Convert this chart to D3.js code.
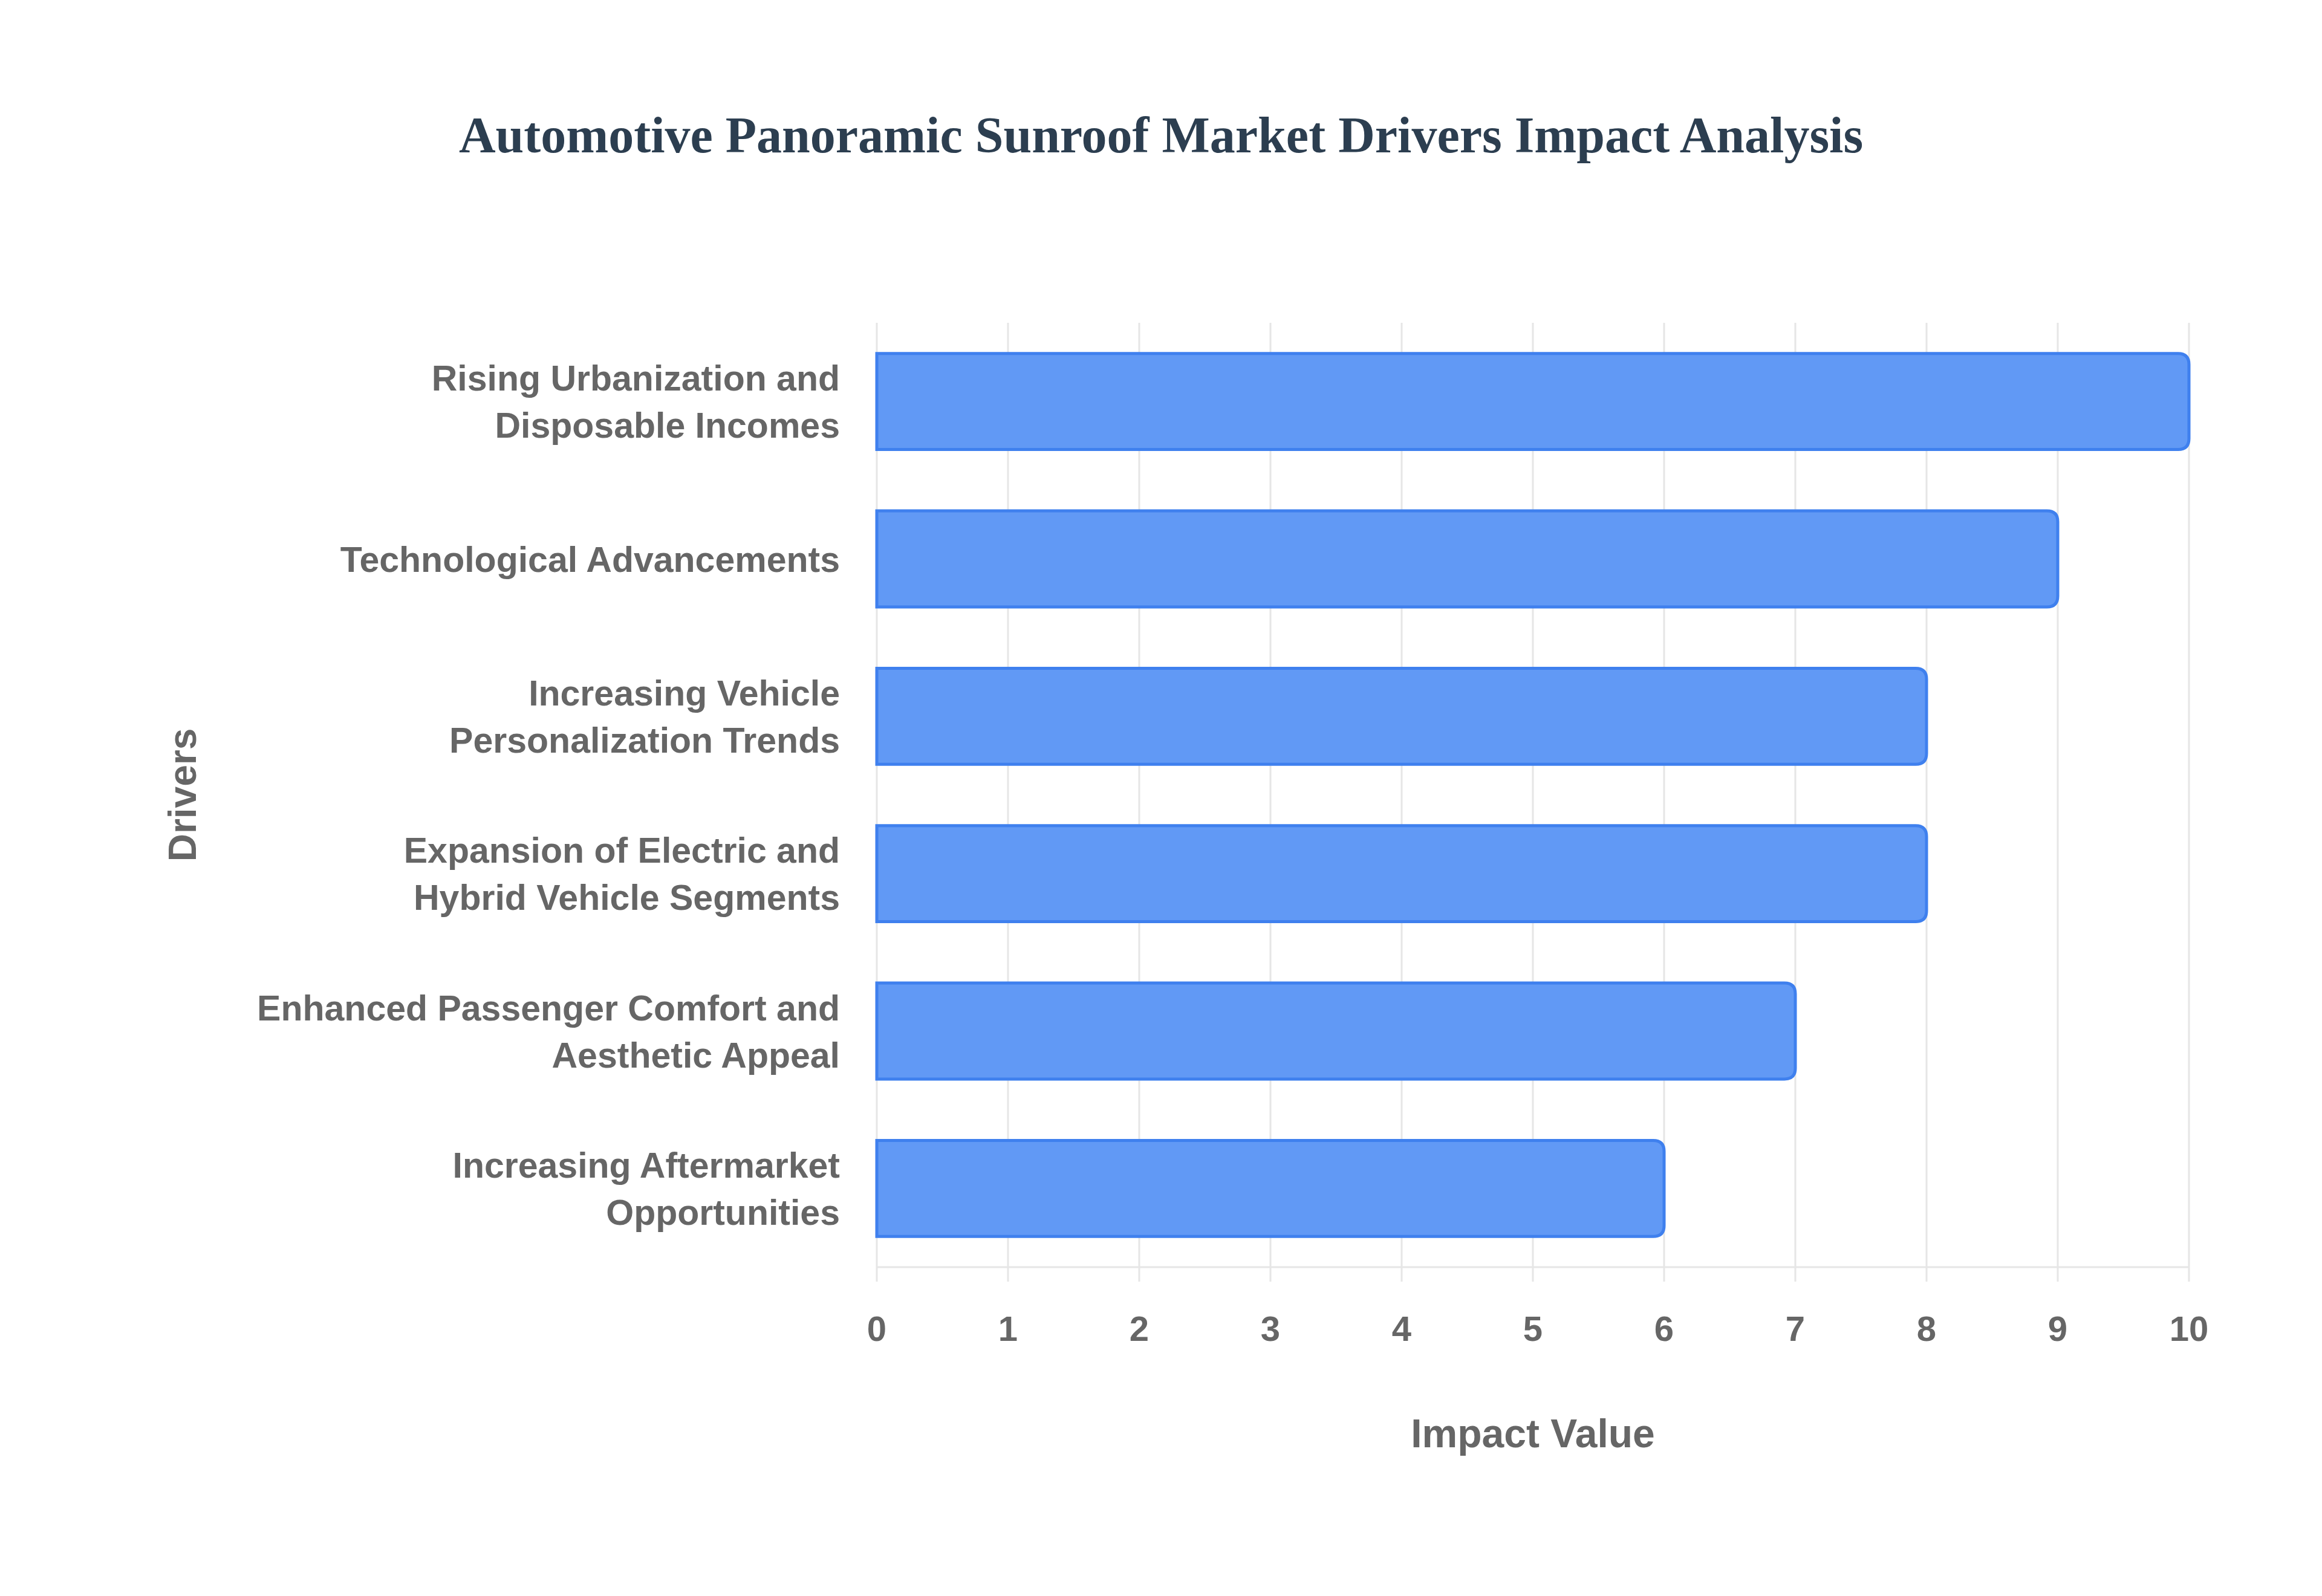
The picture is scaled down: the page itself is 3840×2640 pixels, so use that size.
<!DOCTYPE html>
<html><head><meta charset="utf-8">
<script src="https://cdn.jsdelivr.net/npm/d3@7"></script>
<style>body{margin:0;background:#fff}</style></head>
<body><svg id="c" width="3840" height="2640"></svg>
<script>
const categories = [
  ["Rising Urbanization and","Disposable Incomes"],
  ["Technological Advancements"],
  ["Increasing Vehicle","Personalization Trends"],
  ["Expansion of Electric and","Hybrid Vehicle Segments"],
  ["Enhanced Passenger Comfort and","Aesthetic Appeal"],
  ["Increasing Aftermarket","Opportunities"]
];
const values = [10, 9, 8, 8, 7, 6];
const ticks = [0,1,2,3,4,5,6,7,8,9,10];

const svg = d3.select("#c");
const L=1450, R=3620, T=534, B=2096;
const x = d3.scaleLinear().domain([0,10]).range([L,R]);
const y = d3.scaleBand().domain(d3.range(values.length)).range([T,B]).paddingInner(0.39).paddingOuter(0.195);

svg.append("text").attr("x",1920).attr("y",252).attr("text-anchor","middle")
  .attr("font-family","Liberation Serif").attr("font-weight","bold").attr("font-size",84)
  .attr("fill","#2c3e50").text("Automotive Panoramic Sunroof Market Drivers Impact Analysis");

svg.append("g").selectAll("line").data(ticks).join("line")
  .attr("x1",d=>x(d)).attr("x2",d=>x(d)).attr("y1",T).attr("y2",B+24)
  .attr("stroke","#e6e6e6").attr("stroke-width",3);
svg.append("line").attr("x1",L).attr("x2",R).attr("y1",B).attr("y2",B).attr("stroke","#e6e6e6").attr("stroke-width",3);

svg.append("g").selectAll("path").data(values).join("path")
  .attr("d",(d,i)=>{const x0=x(0),x1=x(d),y0=y(i),h=y.bandwidth(),r=18;
    return `M${x0},${y0}H${x1-r}Q${x1},${y0} ${x1},${y0+r}V${y0+h-r}Q${x1},${y0+h} ${x1-r},${y0+h}H${x0}Z`;})
  .attr("fill","#6199f5").attr("stroke","#3f80ee").attr("stroke-width",5);

svg.append("g").selectAll("text").data(ticks).join("text")
  .attr("x",d=>x(d)).attr("y",2218).attr("text-anchor","middle")
  .attr("font-family","Liberation Sans").attr("font-weight","bold").attr("font-size",58)
  .attr("fill","#666").text(d=>d);

const lab = svg.append("g").selectAll("text").data(categories).join("text")
  .attr("text-anchor","end").attr("font-family","Liberation Sans").attr("font-weight","bold")
  .attr("font-size",59).attr("fill","#666");
lab.each(function(lines,i){
  const cy=y(i)+y.bandwidth()/2, lh=78, start=cy-(lines.length-1)*lh/2+21;
  d3.select(this).selectAll("tspan").data(lines).join("tspan")
    .attr("x",1389).attr("y",(l,j)=>start+j*lh).text(l=>l);
});

svg.append("text").attr("x",(L+R)/2).attr("y",2394).attr("text-anchor","middle")
  .attr("font-family","Liberation Sans").attr("font-weight","bold").attr("font-size",66)
  .attr("fill","#666").text("Impact Value");
svg.append("text").attr("transform","translate(324,1315) rotate(-90)").attr("text-anchor","middle")
  .attr("font-family","Liberation Sans").attr("font-weight","bold").attr("font-size",64)
  .attr("fill","#666").text("Drivers");
</script></body></html>
